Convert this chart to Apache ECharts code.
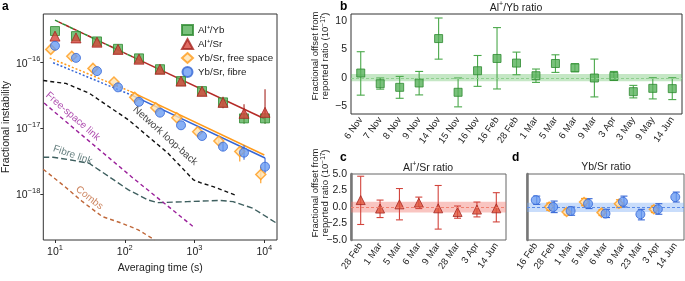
<!DOCTYPE html>
<html>
<head>
<meta charset="utf-8">
<script src="https://cdn.jsdelivr.net/npm/echarts@6/dist/echarts.min.js"></script>
<style>
html,body{margin:0;padding:0;background:#fff;}
#chart{width:685px;height:281px;}
</style>
</head>
<body>
<div id="chart"></div>
<script>
// ---- panel a : instability vs averaging time ----
var tauClock = [10, 20, 40, 80, 160, 320, 640, 1280, 2560, 5120, 10240];
var tauFree = [8.7, 17.4, 35, 70, 139, 278, 557, 1110, 2230, 4450, 8900];
var alYbDev = [2.96e-16, 2.48e-16, 2.06e-16, 1.59e-16, 1.14e-16, 7.8e-17, 5.15e-17, 3.63e-17, 2.45e-17, 1.40e-17, 1.40e-17];
var alSrDev = [2.48e-16, 2.33e-16, 2.01e-16, 1.56e-16, 1.11e-16, 7.8e-17, 5.15e-17, 3.6e-17, 2.45e-17, 1.67e-17, 1.73e-17];
var ybSrFreeDev = [1.56e-16, 1.23e-16, 8.03e-17, 4.98e-17, 2.92e-17, 2.03e-17, 1.43e-17, 8.8e-18, 6.35e-18, 4.41e-18, 1.97e-18];
var ybSrFibreDev = [1.77e-16, 1.16e-16, 7.3e-17, 4.14e-17, 2.5e-17, 1.71e-17, 1.1e-17, 7.57e-18, 5.21e-18, 4.23e-18, 2.59e-18];
// error bars: [tau, low, high]
var alYbErr = [[2560, 2.2e-17, 2.75e-17], [5120, 1.15e-17, 1.69e-17], [10240, 1.15e-17, 1.87e-17]];
var alSrErr = [[2560, 2.0e-17, 2.98e-17], [5120, 1.19e-17, 2.3e-17], [10240, 1.18e-17, 3.86e-17]];
var ybSrFreeErr = [[2230, 5.4e-18, 7.4e-18], [4450, 3.1e-18, 5.2e-18], [8900, 1.45e-18, 2.6e-18]];
var ybSrFibreErr = [[2560, 4.5e-18, 6.0e-18], [5120, 3.3e-18, 5.5e-18], [10240, 2.06e-18, 3.5e-18]];
// fits
var fitAlDashed = [[10, 4.33e-16], [130, 1.2e-16]];
var fitAlSolid = [[130, 1.2e-16], [10240, 1.37e-17]];
var fitFreeDotted = [[8.4, 1.16e-16], [120, 3.6e-17]];
var fitFreeSolid = [[120, 3.6e-17], [10000, 3.9e-18]];
var fitFibreDotted = [[9.4, 9.8e-17], [130, 3.1e-17]];
var fitFibreSolid = [[130, 3.1e-17], [10240, 3.5e-18]];
// noise contributions
var loopBack = [[6.8, 5.25e-17], [14.3, 4.75e-17], [31.1, 3.36e-17], [59.6, 2.1e-17], [114, 1.32e-17], [218, 7.38e-18], [417, 4.14e-18], [968, 1.63e-18], [1216, 1.48e-18], [1854, 1.29e-18], [3776, 9.66e-19]];
var freeSpaceLink = [[7.0, 2.39e-17], [19.1, 9.66e-18], [125.6, 1.81e-18], [968, 3.16e-19]];
var fibreLink = [[6.78, 3.6e-18], [9.37, 3.6e-18], [16.9, 3.27e-18], [30.8, 2.92e-18], [59.4, 1.83e-18], [113, 1.15e-18], [216, 8.1e-19], [297, 7.38e-19], [786, 7.63e-19], [2330, 7.98e-19], [3560, 7.63e-19], [6830, 6.07e-19], [15000, 3.6e-19]];
var combs = [[6.78, 2.37e-18], [12.96, 1.37e-18], [24.8, 7.63e-19], [47.6, 4.53e-19], [90.6, 3.6e-19], [156, 2.85e-19], [267, 2.01e-19]];
var curveNames = ['Network loop-back', 'Free-space link', 'Fibre link', 'Combs'];
var curveLabelAt = [[380, 7.6e-18], [18, 1.5e-17], [17.9, 3.9e-18], [31.1, 8.7e-19]];

// ---- panel b : Al+/Yb ----
var alYbDates = ['6 Nov', '7 Nov', '8 Nov', '9 Nov', '14 Nov', '15 Nov', '16 Nov', '16 Feb', '28 Feb', '1 Mar', '5 Mar', '6 Mar', '9 Mar', '3 Apr', '3 May', '9 May', '14 Jun'];
var alYbOffset = [0.87, -1.0, -1.63, -0.87, 6.9, -2.5, 1.27, 3.42, 2.61, 0.4, 2.54, 1.79, 0.0, 0.28, -2.39, -1.81, -1.86];
var alYbLow = [-3.0, -1.95, -3.55, -2.96, 3.3, -5.05, -1.46, -1.92, 0.57, -0.77, 0.98, 1.1, -3.31, -0.42, -3.48, -3.66, -3.78];
var alYbHigh = [4.6, 0.0, 0.28, 1.15, 10.5, 0.0, 3.94, 8.82, 4.53, 1.57, 4.06, 2.49, 3.31, 1.15, -1.29, 0.05, 0.05];
var alYbBand = [-0.55, 0.72];

// ---- panel c : Al+/Sr ----
var alSrDates = ['28 Feb', '1 Mar', '5 Mar', '6 Mar', '9 Mar', '28 Mar', '3 Apr', '14 Jun'];
var alSrOffset = [1.05, -0.24, 0.4, 0.66, -0.2, -0.75, -0.39, -0.2];
var alSrLow = [-2.65, -1.6, -1.95, -0.24, -3.35, -1.7, -1.5, -2.26];
var alSrHigh = [4.66, 1.05, 2.8, 1.5, 3.26, 0.15, 0.75, 2.17];
var alSrBand = [-0.85, 0.8];

// ---- panel d : Yb/Sr ----
var ybSrDates = ['16 Feb', '28 Feb', '1 Mar', '5 Mar', '6 Mar', '9 Mar', '23 Mar', '3 Apr', '14 Jun'];
var ybSrFibreOffset = [1.05, 0.0, -0.6, 0.5, -1.0, 0.8, -1.1, -0.35, 1.5];
var ybSrFibreLow = [0.4, -0.85, -1.25, -0.24, -1.6, 0.0, -1.95, -1.1, 0.75];
var ybSrFibreHigh = [1.65, 0.9, 0.0, 1.26, -0.35, 1.65, -0.35, 0.5, 2.26];
var ybSrFreeOffset = [null, 0.05, -0.75, 0.75, -0.85, 0.5, null, -0.35, null];
var ybSrFreeLow = [null, -0.5, -1.2, 0.2, -1.3, -0.1, null, -0.85, null];
var ybSrFreeHigh = [null, 0.6, -0.3, 1.3, -0.4, 1.1, null, 0.15, null];
var ybSrBand = [-0.75, 0.66];

var FONT = 'Liberation Sans, Arial, sans-serif';
var GREEN = '#58b15a', GREEN_D = '#2d8a30';
var RED = '#d7463c', RED_D = '#a52620';
var ORANGE = '#ff9b1a', ORANGE_F = '#ffe2b0';
var BLUE = '#6a9cf2', BLUE_D = '#3566d6';

var chart = echarts.init(document.getElementById('chart'));

function minus(v) { return String(v).replace('-', '\u2212'); }
function powLabel(v) {
	var e = Math.round(Math.log(v) / Math.LN10);
	return '{b|10}{s|' + minus(e) + '}';
}
var supRich = {
	b: {fontSize: 10.5, lineHeight: 14, verticalAlign: 'bottom', fontFamily: FONT, color: '#222'},
	s: {fontSize: 7.5, lineHeight: 9, verticalAlign: 'top', fontFamily: FONT, color: '#222'}
};

function triples(lo, hi) {
	var out = [];
	for (var i = 0; i < lo.length; i++) {
		if (lo[i] != null) out.push([i, lo[i], hi[i]]);
	}
	return out;
}

function errBars(axis, data, color, cap, dx, band, bandColor, lineColor) {
	var s = {
		type: 'custom', xAxisIndex: axis, yAxisIndex: axis, data: data, silent: true,
		renderItem: function (params, api) {
			var lo = api.coord([api.value(0), api.value(1)]);
			var hi = api.coord([api.value(0), api.value(2)]);
			var x = lo[0] + dx;
			var st = {stroke: color, lineWidth: 1.1};
			var kids = [{type: 'line', shape: {x1: x, y1: lo[1], x2: x, y2: hi[1]}, style: st}];
			if (cap > 0) {
				kids.push({type: 'line', shape: {x1: x - cap, y1: lo[1], x2: x + cap, y2: lo[1]}, style: st});
				kids.push({type: 'line', shape: {x1: x - cap, y1: hi[1], x2: x + cap, y2: hi[1]}, style: st});
			}
			return {type: 'group', children: kids};
		}
	};
	if (band) {
		s.markArea = {silent: true, itemStyle: {color: bandColor}, data: [[{yAxis: band[0]}, {yAxis: band[1]}]]};
		s.markLine = {silent: true, symbol: 'none', label: {show: false},
			lineStyle: {type: [3, 2], color: lineColor, width: 1}, data: [{yAxis: 0}]};
	}
	return s;
}

function pairs(xs, ys) { return xs.map(function (x, i) { return [x, ys[i]]; }); }

function curve(data, color, dash, width) {
	return {type: 'line', xAxisIndex: 0, yAxisIndex: 0, data: data, showSymbol: false, silent: true,
		lineStyle: {color: color, type: dash, width: width || 1.4}, z: 1};
}

var labelColors = ['#111', '#9a1f9a', '#3e5f5f', '#c0683a'];
var labelRot = [-42, -41, -19, -38];

var catLabel = {rotate: 55, fontSize: 9.5, margin: 4, interval: 0, color: '#222', fontFamily: FONT};
var yLab = {fontSize: 10.5, color: '#222', margin: 4, fontFamily: FONT};

var option = {
	animation: false,
	textStyle: {fontFamily: FONT},
	grid: [
		{left: 40, top: 14, width: 237, height: 226, show: true, borderColor: '#333', borderWidth: 1},
		{left: 351, top: 14, width: 331, height: 100, show: true, borderColor: '#333', borderWidth: 1},
		{left: 351, top: 174, width: 155, height: 66, show: true, borderColor: '#666', borderWidth: 1},
		{left: 527, top: 174, width: 157, height: 66, show: true, borderColor: '#666', borderWidth: 1}
	],
	legend: {
		left: 176, top: 19, orient: 'vertical', itemWidth: 11, itemHeight: 10, itemGap: 2,
		textStyle: {fontSize: 9.8, color: '#222', fontFamily: FONT},
		data: [
			{name: 'Al\u207a/Yb', icon: 'rect'},
			{name: 'Al\u207a/Sr', icon: 'triangle'},
			{name: 'Yb/Sr, free space', icon: 'diamond'},
			{name: 'Yb/Sr, fibre', icon: 'circle'}
		]
	},
	xAxis: [
		{gridIndex: 0, type: 'log', min: 6.8, max: 15200, axisLine: {show: false},
			axisTick: {length: 3, lineStyle: {color: '#333'}}, splitLine: {show: false},
			axisLabel: {formatter: powLabel, rich: supRich, margin: 4, showMinLabel: false, showMaxLabel: false},
			name: 'Averaging time (s)', nameLocation: 'middle', nameGap: 20,
			nameTextStyle: {fontSize: 10.5, color: '#222'}},
		{gridIndex: 1, type: 'category', data: alYbDates, axisLine: {show: false},
			axisTick: {alignWithLabel: true, length: 3, lineStyle: {color: '#333'}}, axisLabel: catLabel},
		{gridIndex: 2, type: 'category', data: alSrDates, axisLine: {show: false},
			axisTick: {alignWithLabel: true, length: 3, lineStyle: {color: '#333'}}, axisLabel: catLabel},
		{gridIndex: 3, type: 'category', data: ybSrDates, axisLine: {show: false},
			axisTick: {alignWithLabel: true, length: 3, lineStyle: {color: '#333'}}, axisLabel: catLabel}
	],
	yAxis: [
		{gridIndex: 0, type: 'log', min: 2.0e-19, max: 5.37e-16, axisLine: {show: false},
			axisTick: {length: 3, lineStyle: {color: '#333'}}, splitLine: {show: false},
			axisLabel: {formatter: powLabel, rich: supRich, margin: 3, showMinLabel: false, showMaxLabel: false},
			name: 'Fractional instability', nameLocation: 'middle', nameGap: 26,
			nameTextStyle: {fontSize: 10.5, color: '#222'}},
		{gridIndex: 1, type: 'value', min: -6.3, max: 11.2, splitNumber: 4, axisLine: {show: false},
			axisTick: {length: 3, lineStyle: {color: '#333'}}, splitLine: {show: false},
			axisLabel: Object.assign({formatter: minus, showMinLabel: false, showMaxLabel: false}, yLab)},
		{gridIndex: 2, type: 'value', min: -5, max: 5, interval: 2.5,
			axisLine: {show: true, lineStyle: {color: '#777', width: 2.5}},
			axisTick: {length: 3, lineStyle: {color: '#333'}}, splitLine: {show: false},
			axisLabel: Object.assign({formatter: function (v) { return minus(v.toFixed(1)); }}, yLab)},
		{gridIndex: 3, type: 'value', min: -5, max: 5, interval: 2.5,
			axisLine: {show: true, lineStyle: {color: '#777', width: 2.5}},
			axisTick: {length: 3, lineStyle: {color: '#333'}}, splitLine: {show: false},
			axisLabel: {show: false}}
	],
	graphic: [
		{type: 'text', x: 2, y: 1, style: {text: 'a', font: 'bold 12px ' + FONT, fill: '#000'}},
		{type: 'text', x: 340, y: 1, style: {text: 'b', font: 'bold 12px ' + FONT, fill: '#000'}},
		{type: 'text', x: 340, y: 152, style: {text: 'c', font: 'bold 12px ' + FONT, fill: '#000'}},
		{type: 'text', x: 512, y: 152, style: {text: 'd', font: 'bold 12px ' + FONT, fill: '#000'}},
		{type: 'text', x: 516, y: 7, style: {text: '{t|Al}{u|+}{t|/Yb ratio}', align: 'center', verticalAlign: 'middle',
			rich: {t: {fontSize: 10.5, lineHeight: 13, verticalAlign: 'bottom', fontFamily: FONT, fill: '#222'},
				u: {fontSize: 7, lineHeight: 8, verticalAlign: 'top', fontFamily: FONT, fill: '#222'}}}},
		{type: 'text', x: 428, y: 167, style: {text: '{t|Al}{u|+}{t|/Sr ratio}', align: 'center', verticalAlign: 'middle',
			rich: {t: {fontSize: 10.5, lineHeight: 13, verticalAlign: 'bottom', fontFamily: FONT, fill: '#222'},
				u: {fontSize: 7, lineHeight: 8, verticalAlign: 'top', fontFamily: FONT, fill: '#222'}}}},
		{type: 'text', x: 606, y: 167, style: {text: 'Yb/Sr ratio', align: 'center', verticalAlign: 'middle',
			font: '10.5px ' + FONT, fill: '#222'}},
		{type: 'text', x: 320, y: 56, rotation: Math.PI / 2, style: {
			text: '{t|Fractional offset from}\n{t|reported ratio (10}{u|\u221217}{t|)}', align: 'center', verticalAlign: 'middle',
			rich: {t: {fontSize: 9.5, lineHeight: 10, verticalAlign: 'bottom', fontFamily: FONT, fill: '#222'},
				u: {fontSize: 6.5, lineHeight: 7, verticalAlign: 'top', fontFamily: FONT, fill: '#222'}}}},
		{type: 'text', x: 320, y: 193, rotation: Math.PI / 2, style: {
			text: '{t|Fractional offset from}\n{t|reported ratio (10}{u|\u221217}{t|)}', align: 'center', verticalAlign: 'middle',
			rich: {t: {fontSize: 9.5, lineHeight: 10, verticalAlign: 'bottom', fontFamily: FONT, fill: '#222'},
				u: {fontSize: 6.5, lineHeight: 7, verticalAlign: 'top', fontFamily: FONT, fill: '#222'}}}}
	],
	series: []
};

var S = option.series;
// panel a curves
S.push(curve(combs, '#c0683a', [4, 3]));
S.push(curve(fibreLink, '#3e5f5f', [6, 3]));
S.push(curve(freeSpaceLink, '#9a1f9a', [4, 3]));
S.push(curve(loopBack, '#111', [4, 3]));
S.push(curve(fitFreeDotted, ORANGE, [2, 2], 1.5));
S.push(curve(fitFibreDotted, BLUE_D, [2, 2], 1.5));
S.push(curve(fitFreeSolid, ORANGE, 'solid', 1.6));
S.push(curve(fitFibreSolid, BLUE_D, 'solid', 1.6));
S.push(curve(fitAlDashed, GREEN_D, [4, 4], 1.5));
var redDash = curve(fitAlDashed, RED_D, [4, 4], 1.5);
redDash.lineStyle.dashOffset = 4;
S.push(redDash);
S.push(curve(fitAlSolid, '#b52b27', 'solid', 1.6));
// curve labels
S.push({type: 'scatter', xAxisIndex: 0, yAxisIndex: 0, symbolSize: 0, silent: true, z: 3,
	data: curveLabelAt.map(function (p, i) {
		return {value: p, label: {show: true, position: 'inside', formatter: curveNames[i],
			rotate: labelRot[i], color: labelColors[i], fontSize: 10, fontFamily: FONT}};
	})});
// panel a error bars and markers
S.push(errBars(0, alYbErr, GREEN, 0, 0));
S.push(errBars(0, alSrErr, RED_D, 0, 0));
S.push(errBars(0, ybSrFreeErr, ORANGE, 0, 0));
S.push(errBars(0, ybSrFibreErr, BLUE_D, 0, 0));
S.push({type: 'scatter', name: 'Al\u207a/Yb', xAxisIndex: 0, yAxisIndex: 0, symbol: 'rect', symbolSize: 9,
	itemStyle: {color: GREEN, borderColor: GREEN_D, borderWidth: 1}, data: pairs(tauClock, alYbDev), z: 4});
S.push({type: 'scatter', name: 'Al\u207a/Sr', xAxisIndex: 0, yAxisIndex: 0, symbol: 'triangle', symbolSize: 10,
	itemStyle: {color: RED, borderColor: RED_D, borderWidth: 1}, data: pairs(tauClock, alSrDev), z: 5});
S.push({type: 'scatter', name: 'Yb/Sr, free space', xAxisIndex: 0, yAxisIndex: 0, symbol: 'diamond', symbolSize: 10,
	itemStyle: {color: ORANGE_F, borderColor: ORANGE, borderWidth: 1.5}, data: pairs(tauFree, ybSrFreeDev), z: 4});
S.push({type: 'scatter', name: 'Yb/Sr, fibre', xAxisIndex: 0, yAxisIndex: 0, symbol: 'circle', symbolSize: 9,
	itemStyle: {color: BLUE, borderColor: BLUE_D, borderWidth: 1}, data: pairs(tauClock, ybSrFibreDev), z: 5});

// panel b
S.push(errBars(1, triples(alYbLow, alYbHigh), '#4aa84a', 4, 0, alYbBand, 'rgba(90,185,90,0.35)', '#8fd08f'));
S.push({type: 'scatter', name: 'Al+/Yb ratio', xAxisIndex: 1, yAxisIndex: 1, symbol: 'rect', symbolSize: 8,
	itemStyle: {color: GREEN, borderColor: GREEN_D, borderWidth: 1}, data: alYbOffset, z: 4});
// panel c
S.push(errBars(2, triples(alSrLow, alSrHigh), '#d2443c', 3.5, 0, alSrBand, 'rgba(240,110,100,0.4)', '#f08070'));
S.push({type: 'scatter', name: 'Al+/Sr ratio', xAxisIndex: 2, yAxisIndex: 2, symbol: 'triangle', symbolSize: 9,
	itemStyle: {color: '#e0553c', borderColor: RED_D, borderWidth: 1}, data: alSrOffset, z: 4});
// panel d
S.push(errBars(3, triples(ybSrFibreLow, ybSrFibreHigh), BLUE_D, 3.5, 1, ybSrBand, 'rgba(120,170,245,0.4)', '#5b8be8'));
S.push(errBars(3, triples(ybSrFreeLow, ybSrFreeHigh), ORANGE, 3, -4));
S.push({type: 'scatter', name: 'Yb/Sr free ratio', xAxisIndex: 3, yAxisIndex: 3, symbol: 'diamond', symbolSize: 9,
	symbolOffset: [-4, 0], itemStyle: {color: ORANGE_F, borderColor: ORANGE, borderWidth: 1.5}, data: ybSrFreeOffset, z: 4});
S.push({type: 'scatter', name: 'Yb/Sr fibre ratio', xAxisIndex: 3, yAxisIndex: 3, symbol: 'circle', symbolSize: 9,
	itemStyle: {color: BLUE, borderColor: BLUE_D, borderWidth: 1}, data: ybSrFibreOffset, z: 5});

chart.setOption(option);
</script>
</body>
</html>
